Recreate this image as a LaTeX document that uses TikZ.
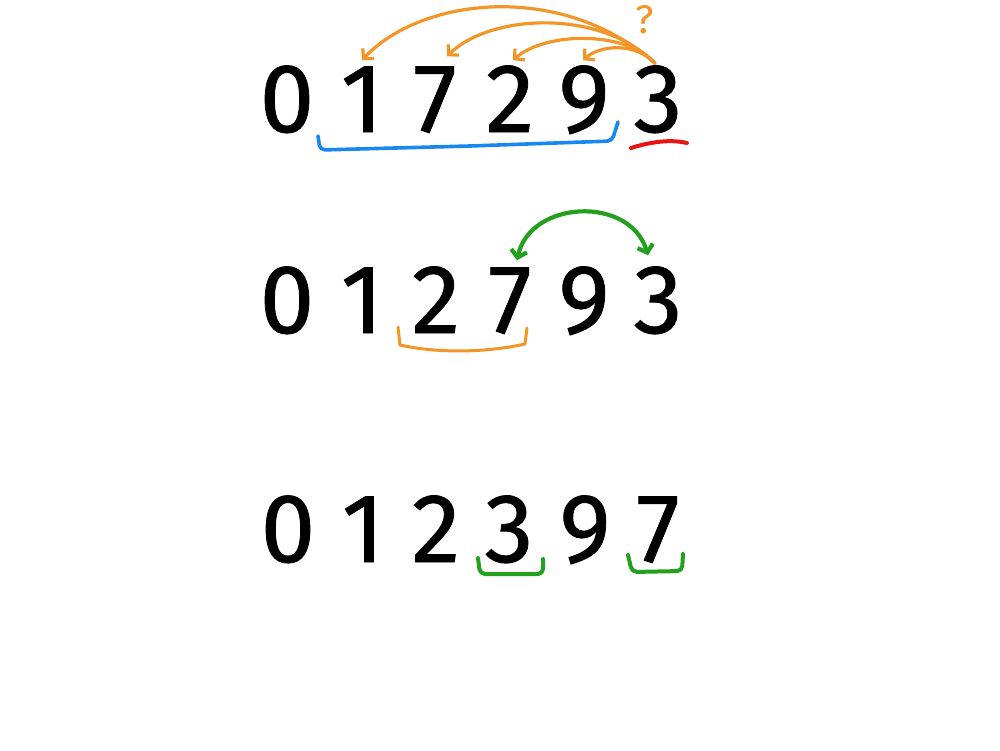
\documentclass[tikz,border=0pt]{standalone}
\usepackage{fontspec}
\setmainfont{Fira Sans}[FakeBold=0.8,UprightFeatures={FakeBold=0.8}]
\newfontfamily\qfont{Fira Sans}
\usetikzlibrary{arrows.meta,calc}
\definecolor{orng}{RGB}{242,150,40}
\definecolor{blu}{RGB}{25,135,240}
\definecolor{redd}{RGB}{232,20,20}
\definecolor{grn}{RGB}{35,160,30}
\tikzset{
  dig/.style={inner sep=0pt, anchor=base, font=\fontsize{98}{98}\selectfont},
  orarrow/.style={draw=orng, line width=3.2pt, line cap=round,
     -{Straight Barb[length=7pt,width=15pt,line width=3.2pt]}},
  grarrow/.style={draw=grn, line width=4.2pt, line cap=round,
     {Straight Barb[length=7pt,width=16pt,line width=4.2pt]}-{Straight Barb[length=7pt,width=16pt,line width=4.2pt]}},
  brk/.style={line width=3.6pt, line cap=round, line join=round, rounded corners=5pt},
}
\begin{document}
\begin{tikzpicture}[x=1pt,y=-1pt]
\useasboundingbox[fill=white] (0,0) rectangle (1000,750);
% row 1
\node[dig] (r1d1) at (287,132) {0};
\node[dig] (r1d2) at (362,132) {1};
\node[dig] (r1d3) at (435,132) {7};
\node[dig] (r1d4) at (510,132) {2};
\node[dig] (r1d5) at (584,132) {9};
\node[dig] (r1d6) at (658,132) {3};
% row 2
\node[dig] (r2d1) at (287,333) {0};
\node[dig] (r2d2) at (362,333) {1};
\node[dig] (r2d3) at (436,333) {2};
\node[dig] (r2d4) at (510,333) {7};
\node[dig] (r2d5) at (584,333) {9};
\node[dig] (r2d6) at (658,333) {3};
% row 3
\node[dig] (r3d1) at (288,562) {0};
\node[dig] (r3d2) at (363,562) {1};
\node[dig] (r3d3) at (436,562) {2};
\node[dig] (r3d4) at (509,562) {3};
\node[dig] (r3d5) at (585,562) {9};
\node[dig] (r3d6) at (658,562) {7};
% question mark
\node[inner sep=0pt, text=orng, font=\fontsize{40}{40}\selectfont\qfont] (q) at (645,20) {?};
% orange arrows from 3
\coordinate (s) at ($(r1d6.north)+(-3,-2)$);
\draw[orarrow] (s) .. controls (560,-20) and (420,-2) .. ($(r1d2.north)+(0,-6)$);
\draw[orarrow] (s) .. controls (600,8) and (490,14) .. ($(r1d3.north)+(12,-10)$);
\draw[orarrow] (s) .. controls (625,30) and (545,32) .. ($(r1d4.north)+(3,-5)$);
\draw[orarrow] (s) .. controls (635,42) and (600,45) .. ($(r1d5.north)+(-1,-5)$);
% blue bracket & red underline
\draw[brk, draw=blu] (318,136) -- (320,150) -- (470,146) -- (612,141) -- (618,122);
\draw[line width=4pt, draw=redd, line cap=round] (631,148) .. controls (650,142) and (670,139) .. (687,143);
% row 2 annotations
\draw[grarrow] ($(r2d4.north)+(7,-7)$) .. controls (530,200) and (630,195) .. ($(r2d6.north)+(-10,-11)$);
\draw[line width=3pt, draw=orng, line cap=round, line join=round] (398,327) -- (400,345) .. controls (440,354) and (490,352) .. (525,344) -- (527,328);
% row 3 annotations
\draw[brk, draw=grn, line width=4pt] (478,558) -- (480,574) -- (543,574) -- (543,559);
\draw[brk, draw=grn, line width=4pt] (628,555) -- (632,572) -- (682,571) -- (683,554);
\end{tikzpicture}
\end{document}
